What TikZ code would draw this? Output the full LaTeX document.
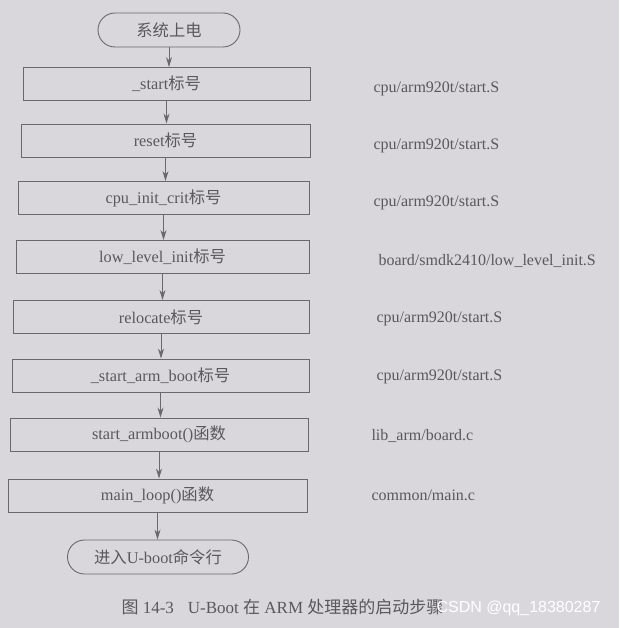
\documentclass[tikz,border=0pt]{standalone}
\usepackage{fontspec}
\setmainfont{Liberation Serif}
\newfontfamily\cjk{Noto Sans CJK SC}
\newfontfamily\wmfont{Liberation Sans}
\usetikzlibrary{arrows.meta,shapes.misc}
\definecolor{paper}{HTML}{D9D7DB}
\definecolor{ink}{HTML}{6A686C}
\definecolor{txt}{HTML}{5A585C}
\begin{document}
\begin{tikzpicture}[x=1pt,y=-1pt,
  every node/.style={font=\fontsize{16.3}{19}\selectfont, text=txt},
  stepbox/.style={draw=ink, line width=0.9pt, minimum height=33pt, inner sep=0pt},
  term/.style={draw=ink, line width=0.9pt, rounded rectangle, minimum height=34pt, inner sep=0pt},
  flow/.style={draw=ink, line width=0.9pt, -{Stealth[length=10pt,width=6pt]}},
  path/.style={anchor=west, font=\fontsize{16}{19}\selectfont}]
\fill[paper] (0,0) rectangle (619,628);
\useasboundingbox (0,0) rectangle (619,628);
\node[term, minimum width=142pt] (t0) at (169,30) {\cjk 系统上电};
\node[stepbox, minimum width=287pt] (b1) at (166.5,84) {\_start{\cjk 标号}};
\node[stepbox, minimum width=289pt] (b2) at (165.5,140.5) {reset{\cjk 标号}};
\node[stepbox, minimum width=291pt] (b3) at (163.5,198) {cpu\_init\_crit{\cjk 标号}};
\node[stepbox, minimum width=293pt] (b4) at (162.5,257) {low\_level\_init{\cjk 标号}};
\node[stepbox, minimum width=296pt] (b5) at (161,317) {relocate{\cjk 标号}};
\node[stepbox, minimum width=297pt] (b6) at (160.5,375.5) {\_start\_arm\_boot{\cjk 标号}};
\node[stepbox, minimum width=298pt] (b7) at (159,434.5) {start\_armboot(){\cjk 函数}};
\node[stepbox, minimum width=299pt] (b8) at (157.5,495.5) {main\_loop(){\cjk 函数}};
\node[term, minimum width=181pt] (t1) at (158,557) {{\cjk 进入}U-boot{\cjk 命令行}};
\draw[flow] (t0.south) -- (t0.south |- b1.north);
\draw[flow] (b1.south) -- (b1.south |- b2.north);
\draw[flow] (b2.south) -- (b2.south |- b3.north);
\draw[flow] (b3.south) -- (b3.south |- b4.north);
\draw[flow] (b4.south) -- (b4.south |- b5.north);
\draw[flow] (b5.south) -- (b5.south |- b6.north);
\draw[flow] (b6.south) -- (b6.south |- b7.north);
\draw[flow] (b7.south) -- (b7.south |- b8.north);
\draw[flow] (b8.south) -- (b8.south |- t1.north);
\node[path] (p1) at (370,89) {cpu/arm920t/start.S};
\node[path] (p2) at (370,146) {cpu/arm920t/start.S};
\node[path] (p3) at (370,203) {cpu/arm920t/start.S};
\node[path] (p4) at (375,261) {board/smdk2410/low\_level\_init.S};
\node[path] (p5) at (373,319) {cpu/arm920t/start.S};
\node[path] (p6) at (373,377) {cpu/arm920t/start.S};
\node[path] (p7) at (368,436) {lib\_arm/board.c};
\node[path] (p8) at (368,495) {common/main.c};
\node[anchor=west, font=\fontsize{17}{20}\selectfont] (cap) at (118,607) {{\cjk 图} 14-3\hspace{14pt}U-Boot {\cjk 在} ARM {\cjk 处理器的启动步骤}};
\node[anchor=east, text=white, font=\wmfont\fontsize{16}{18}\selectfont] (wm) at (604,608) {CSDN @qq\_18380287};
\end{tikzpicture}
\end{document}
